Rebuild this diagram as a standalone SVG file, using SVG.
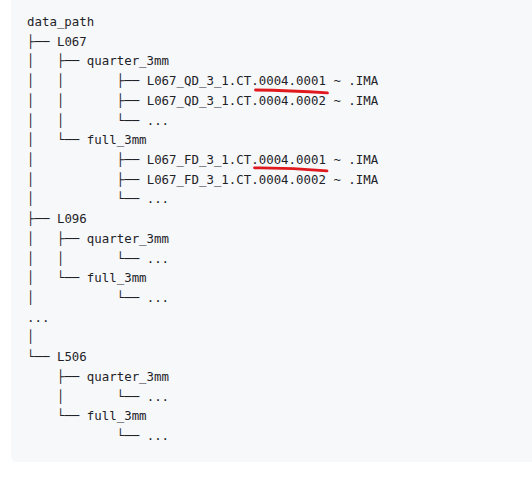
<svg xmlns="http://www.w3.org/2000/svg" width="532" height="477" viewBox="0 0 532 477">
<style>
.t{font-family:"DejaVu Sans Mono","Liberation Mono",monospace;font-size:12.42px;fill:#1f2328}
.ul{fill:none;stroke:#e0191e;stroke-width:2.8;stroke-linecap:round}
</style>
<rect x="11" y="-10" width="540" height="472" rx="6" fill="#f6f8fa"/>
<g id="connectors" class="t">
<text x="27" y="45.7">├──</text>
<text x="27" y="65.4">│</text><text x="56.92" y="65.4">├──</text>
<text x="27" y="85.2">│</text><text x="56.92" y="85.2">│</text><text x="116.76" y="85.2">├──</text>
<text x="27" y="104.9">│</text><text x="56.92" y="104.9">│</text><text x="116.76" y="104.9">├──</text>
<text x="27" y="124.6">│</text><text x="56.92" y="124.6">│</text><text x="116.76" y="124.6">└──</text>
<text x="27" y="144.3">│</text><text x="56.92" y="144.3">└──</text>
<text x="27" y="164.0">│</text><text x="116.76" y="164.0">├──</text>
<text x="27" y="183.7">│</text><text x="116.76" y="183.7">├──</text>
<text x="27" y="203.4">│</text><text x="116.76" y="203.4">└──</text>
<text x="27" y="223.2">├──</text>
<text x="27" y="242.9">│</text><text x="56.92" y="242.9">├──</text>
<text x="27" y="262.6">│</text><text x="56.92" y="262.6">│</text><text x="116.76" y="262.6">└──</text>
<text x="27" y="282.3">│</text><text x="56.92" y="282.3">└──</text>
<text x="27" y="302.0">│</text><text x="116.76" y="302.0">└──</text>
<text x="27" y="341.4">│</text>
<text x="27" y="361.2">└──</text>
<text x="56.92" y="380.9">├──</text>
<text x="56.92" y="400.6">│</text><text x="116.76" y="400.6">└──</text>
<text x="56.92" y="420.3">└──</text>
<text x="116.76" y="440.0">└──</text>
</g>
<g id="root" class="t"><text x="27" y="26">data_path</text></g>
<g id="L067" class="t"><text x="56.92" y="45.7">L067</text></g>
<g id="L067_quarter" class="t"><text x="86.84" y="65.4">quarter_3mm</text></g>
<g id="L067_QD_1" class="t"><text x="146.68" y="85.2">L067_QD_3_1.CT.0004.0001 ~ .IMA</text></g>
<g id="L067_QD_2" class="t"><text x="146.68" y="104.9">L067_QD_3_1.CT.0004.0002 ~ .IMA</text></g>
<g id="L067_QD_more" class="t"><text x="146.68" y="124.6">...</text></g>
<g id="L067_full" class="t"><text x="86.84" y="144.3">full_3mm</text></g>
<g id="L067_FD_1" class="t"><text x="146.68" y="164.0">L067_FD_3_1.CT.0004.0001 ~ .IMA</text></g>
<g id="L067_FD_2" class="t"><text x="146.68" y="183.7">L067_FD_3_1.CT.0004.0002 ~ .IMA</text></g>
<g id="L067_FD_more" class="t"><text x="146.68" y="203.4">...</text></g>
<g id="L096" class="t"><text x="56.92" y="223.2">L096</text></g>
<g id="L096_quarter" class="t"><text x="86.84" y="242.9">quarter_3mm</text></g>
<g id="L096_quarter_more" class="t"><text x="146.68" y="262.6">...</text></g>
<g id="L096_full" class="t"><text x="86.84" y="282.3">full_3mm</text></g>
<g id="L096_full_more" class="t"><text x="146.68" y="302.0">...</text></g>
<g id="ellipsis" class="t"><text x="27" y="321.7">...</text></g>
<g id="L506" class="t"><text x="56.92" y="361.2">L506</text></g>
<g id="L506_quarter" class="t"><text x="86.84" y="380.9">quarter_3mm</text></g>
<g id="L506_quarter_more" class="t"><text x="146.68" y="400.6">...</text></g>
<g id="L506_full" class="t"><text x="86.84" y="420.3">full_3mm</text></g>
<g id="L506_full_more" class="t"><text x="146.68" y="440.0">...</text></g>
<g id="annotations">
<path class="ul" d="M255.5 90 Q290 90.5 327.5 92.8"/>
<path class="ul" d="M254.5 167.8 Q290 167.5 327 170.8"/>
</g>
</svg>
